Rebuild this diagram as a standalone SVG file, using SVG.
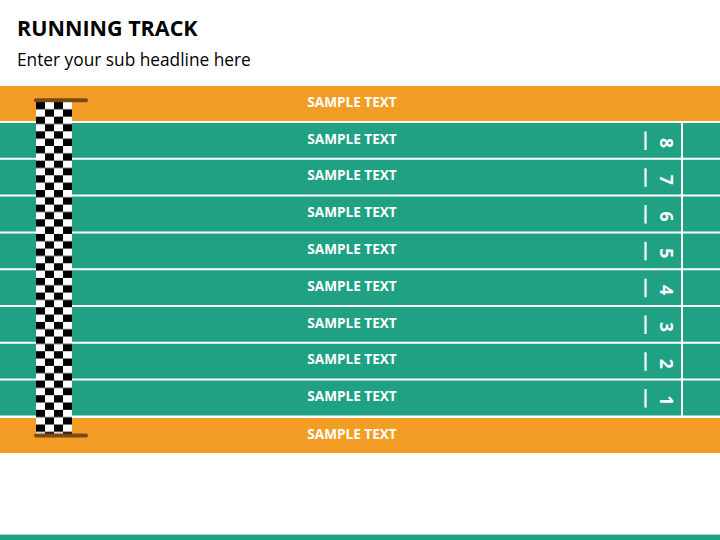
<svg xmlns="http://www.w3.org/2000/svg" width="720" height="540" viewBox="0 0 720 540">
<defs>
<style>
.title{font-family:"Open Sans","Liberation Sans",sans-serif;font-weight:700;font-size:21.5px;fill:#000}
.sub{font-family:"Open Sans","Liberation Sans",sans-serif;font-size:17.3px;fill:#000}
.lbl{font-family:"Open Sans","Liberation Sans",sans-serif;font-weight:700;font-size:13.6px;fill:#fff;text-anchor:middle}
.num{font-family:"Open Sans","Liberation Sans",sans-serif;font-weight:700;font-size:17.5px;fill:#fff;text-anchor:middle}
.orange{fill:#F39C26}
.green{fill:#20A184}
.sep{stroke:#fff;stroke-width:2}
.tick{stroke:#fff;stroke-width:2.2}
.bar{stroke:#7B4A12;stroke-width:4;stroke-linecap:round}
</style>
<pattern id="chk" x="36" y="102" width="18" height="14.66" patternUnits="userSpaceOnUse">
<rect width="18" height="14.66" fill="#fff"/>
<rect x="0" y="0" width="9" height="7.33" fill="#000"/>
<rect x="9" y="7.33" width="9" height="7.33" fill="#000"/>
</pattern>
</defs>
<rect width="720" height="540" fill="#fff"/>
<text class="title" x="17" y="36">RUNNING TRACK</text>
<text class="sub" x="17" y="66">Enter your sub headline here</text>

<g id="top-band">
<rect class="orange" x="0" y="86" width="720" height="35.5"/>
<text class="lbl" x="352" y="106.7">SAMPLE TEXT</text>
</g>
<g id="lanes-bg">
<rect class="green" x="0" y="122" width="720" height="295"/>
</g>
<g id="lane8"><text class="lbl" x="352" y="143.5">SAMPLE TEXT</text><line class="tick" x1="645.5" y1="131.5" x2="645.5" y2="150"/><text class="num" transform="translate(659.5,142.9) rotate(90)">8</text></g>
<g id="lane7"><text class="lbl" x="352" y="180.3">SAMPLE TEXT</text><line class="tick" x1="645.5" y1="168.3" x2="645.5" y2="186.8"/><text class="num" transform="translate(659.5,179.7) rotate(90)">7</text></g>
<g id="lane6"><text class="lbl" x="352" y="217.1">SAMPLE TEXT</text><line class="tick" x1="645.5" y1="205.1" x2="645.5" y2="223.6"/><text class="num" transform="translate(659.5,216.5) rotate(90)">6</text></g>
<g id="lane5"><text class="lbl" x="352" y="253.9">SAMPLE TEXT</text><line class="tick" x1="645.5" y1="241.9" x2="645.5" y2="260.4"/><text class="num" transform="translate(659.5,253.3) rotate(90)">5</text></g>
<g id="lane4"><text class="lbl" x="352" y="290.7">SAMPLE TEXT</text><line class="tick" x1="645.5" y1="278.7" x2="645.5" y2="297.2"/><text class="num" transform="translate(659.5,290.1) rotate(90)">4</text></g>
<g id="lane3"><text class="lbl" x="352" y="327.5">SAMPLE TEXT</text><line class="tick" x1="645.5" y1="315.5" x2="645.5" y2="334"/><text class="num" transform="translate(659.5,326.9) rotate(90)">3</text></g>
<g id="lane2"><text class="lbl" x="352" y="364.3">SAMPLE TEXT</text><line class="tick" x1="645.5" y1="352.3" x2="645.5" y2="370.8"/><text class="num" transform="translate(659.5,363.7) rotate(90)">2</text></g>
<g id="lane1"><text class="lbl" x="352" y="401.1">SAMPLE TEXT</text><line class="tick" x1="645.5" y1="389.1" x2="645.5" y2="407.6"/><text class="num" transform="translate(659.5,400.5) rotate(90)">1</text></g>

<g id="bottom-band">
<rect class="orange" x="0" y="418" width="720" height="35"/>
<text class="lbl" x="352" y="439.3">SAMPLE TEXT</text>
</g>

<g id="lines">
<line class="sep" x1="0" y1="122" x2="720" y2="122"/>
<line class="sep" x1="0" y1="158.8" x2="720" y2="158.8"/>
<line class="sep" x1="0" y1="195.6" x2="720" y2="195.6"/>
<line class="sep" x1="0" y1="232.4" x2="720" y2="232.4"/>
<line class="sep" x1="0" y1="269.2" x2="720" y2="269.2"/>
<line class="sep" x1="0" y1="306" x2="720" y2="306"/>
<line class="sep" x1="0" y1="342.8" x2="720" y2="342.8"/>
<line class="sep" x1="0" y1="379.6" x2="720" y2="379.6"/>
<line class="sep" x1="0" y1="416.6" x2="720" y2="416.6"/>
<line class="sep" x1="682" y1="122" x2="682" y2="417"/>
</g>

<g id="finish-flag">
<rect x="36" y="102" width="36" height="332" fill="url(#chk)"/>
<line class="bar" x1="36" y1="100.3" x2="86" y2="100.3"/>
<line class="bar" x1="36" y1="435.5" x2="86" y2="435.5"/>
</g>

<g id="footer">
<rect x="0" y="534" width="720" height="6" fill="#20A184"/>
<line x1="0" y1="534.5" x2="720" y2="534.5" stroke="#9fd8c8" stroke-width="1"/>
</g>
</svg>
